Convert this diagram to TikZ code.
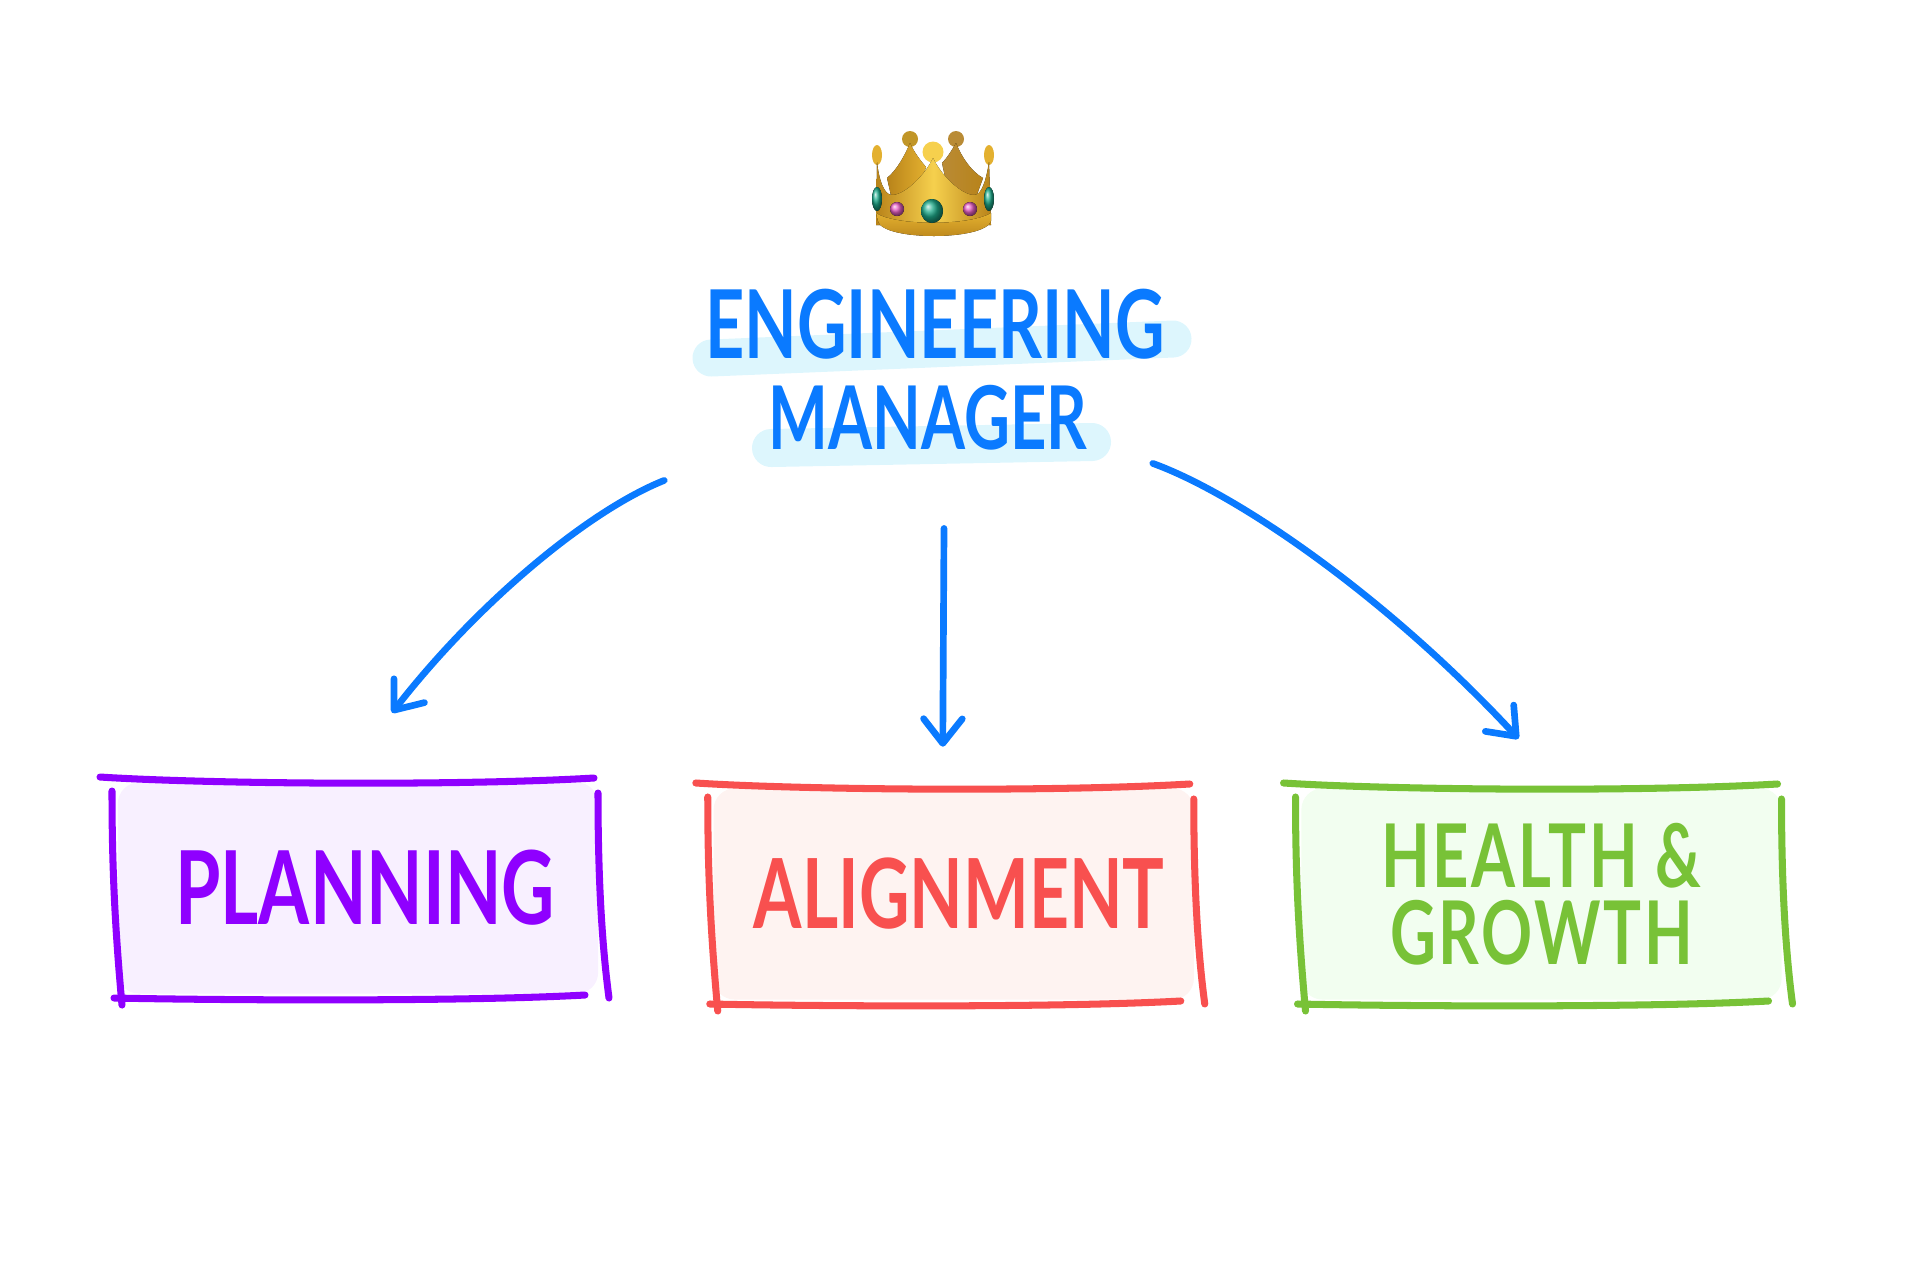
\documentclass[tikz,border=0pt]{standalone}
\usepackage{fontspec}
\usepackage{tikz}
\usetikzlibrary{arrows.meta, positioning}
\newfontfamily\handfont[FakeStretch=0.72]{Lato}
\definecolor{flowblue}{HTML}{0A7AFF}
\definecolor{markblue}{HTML}{DDF6FD}
\definecolor{planline}{HTML}{8F00FF}
\definecolor{planfill}{HTML}{F8F0FF}
\definecolor{alignline}{HTML}{F8504F}
\definecolor{alignfill}{HTML}{FEF3F1}
\definecolor{healthline}{HTML}{78C237}
\definecolor{healthfill}{HTML}{F2FEF0}
\definecolor{gemgreen}{HTML}{1EAC8C}
\definecolor{gempink}{HTML}{E85FC5}
\definecolor{crownpale}{HTML}{F6D04D}
\definecolor{crowngold}{HTML}{E3B02F}
\definecolor{crowndark}{HTML}{B8831A}
\definecolor{crownback}{HTML}{B98B35}

\begin{document}
\begin{tikzpicture}[
    x=0.01cm, y=-0.01cm,
    box/.style={rectangle, rounded corners=6pt, minimum width=4.8cm, minimum height=2.11cm,
        inner sep=0pt, align=center},
    title/.style={inner sep=0pt, anchor=base, text=flowblue},
    swash/.style={markblue, line cap=round},
    arrow/.style={-{Straight Barb[length=7pt, width=11pt, round]}, flowblue, line width=1.9pt, line cap=round},
    stroke/.style={line width=2pt, line cap=round},
    node distance=1cm and 1.14cm
]
\useasboundingbox (0,0) rectangle (1922,1284);

% highlighter under the title
\draw[swash, line width=0.37cm] (711,358) -- (1173,339);
\draw[swash, line width=0.38cm] (771,448) -- (1092,442);

% crown
\fill[crownpale] (933,152) circle (10.5);
\fill[crowngold!85!black] (910,139) circle (8);
\fill[crownback] (956,139) circle (8);
\fill[crowngold] (877,155) ellipse (5 and 10);
\fill[crowngold] (989,155) ellipse (5 and 10);
\fill[left color=crowndark, right color=crowngold]
    (887,178) .. controls (897,170) and (905,155) .. (910,143) .. controls (914,152) and (920,160) .. (926,167) -- (915,200) -- (892,200) -- cycle;
\fill[left color=crownback, right color=crowndark]
    (942,163) .. controls (947,158) and (952,150) .. (956,143) .. controls (962,158) and (972,172) .. (983,178) -- (975,200) -- (950,200) -- cycle;
\fill[left color=crowndark, right color=crowndark, middle color=crownpale]
    (877,162) .. controls (879,180) and (884,195) .. (892,195) .. controls (905,195) and (925,175) .. (933,158)
    .. controls (941,175) and (961,195) .. (974,195) .. controls (982,195) and (986,180) .. (989,162)
    -- (991,225) -- (876,225) -- cycle;
\fill[top color=crowngold, bottom color=crowndark]
    (876,213) .. controls (895,226) and (970,226) .. (991,213) -- (991,221)
    .. controls (985,241) and (882,241) .. (878,221) -- cycle;
\fill[ball color=gemgreen] (932,211) ellipse (11 and 12);
\fill[ball color=gemgreen] (877,199) ellipse (5 and 12);
\fill[ball color=gemgreen] (989,199) ellipse (5 and 12);
\fill[ball color=gempink] (897,209) circle (7);
\fill[ball color=gempink] (970,209) circle (7);

% nodes
\node[title, font=\handfont\bfseries\fontsize{27}{30}\selectfont] (engineering) at (935,358) {ENGINEERING};
\node[title, font=\handfont\bfseries\fontsize{25}{28}\selectfont] (manager) at (928,449) {MANAGER};
\node[box, fill=planfill, text=planline, font=\handfont\bfseries\fontsize{29}{31}\selectfont] (planning) at (358,888) {\hspace*{4pt}PLANNING};
\node[box, fill=alignfill, text=alignline, font=\handfont\bfseries\fontsize{27.5}{30}\selectfont, right=of planning, yshift=-1.7pt] (alignment) {\hspace*{3pt}ALIGNMENT};
\node[box, fill=healthfill, text=healthline, font=\handfont\bfseries\fontsize{25}{22}\selectfont\addfontfeature{LetterSpace=3}, right=1.06cm of alignment] (health) {HEALTH \&\\GROWTH};

% sketched frames
\foreach \name/\col in {planning/planline, alignment/alignline, health/healthline} {
    \begin{scope}[shift={(\name.center)}, \col]
    \draw[stroke] (-258,-111) .. controls (-150,-104) and (100,-102) .. (236,-110);
    \draw[stroke] (-246,-97) .. controls (-246,-20) and (-243,40) .. (-236,117);
    \draw[stroke] (240,-95) .. controls (240,-20) and (243,50) .. (251,110);
    \draw[stroke] (-244,110) .. controls (-150,112) and (100,114) .. (227,107);
    \end{scope}
}

% arrows
\coordinate (planhead) at ([shift={(34,-69)}]planning.north);
\coordinate (alignhead) at ([shift={(-11,-41)}]alignment.north);
\coordinate (healthhead) at ([shift={(-23,-49)}]health.north);
\draw[arrow] (manager.south west) ++(-104,30) .. controls (590,510) and (480,600) .. (planhead);
\draw[arrow] (manager.south) ++(16,78) -- (alignhead);
\draw[arrow] (manager.south east) ++(65,13) .. controls (1240,495) and (1390,600) .. (healthhead);

\end{tikzpicture}
\end{document}
